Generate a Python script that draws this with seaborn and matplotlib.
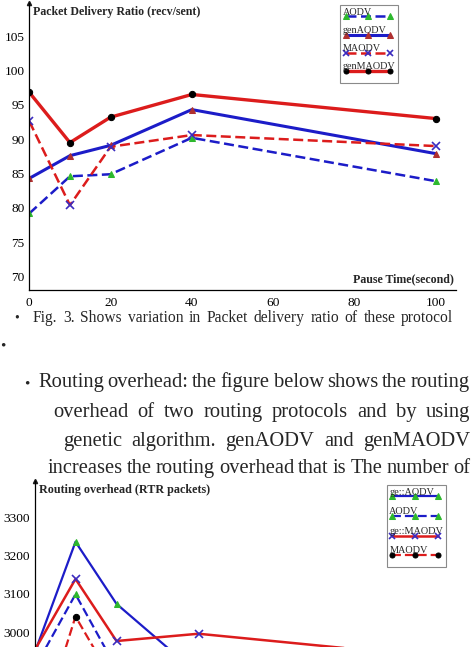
import seaborn as sns
import matplotlib.pyplot as plt
import pandas as pd
import numpy as np

# page size in pixels (dpi 100)
W, H = 474, 647

# Packet delivery ratio vs pause time
pause = [0, 10, 20, 40, 100]
pdr_aodv = [79.2, 84.6, 84.9, 90.2, 83.9]
pdr_genaodv = [84.3, 87.6, 89.1, 94.3, 87.9]
pdr_maodv = [92.6, 80.4, 88.9, 90.6, 89.0]
pdr_genmaodv = [96.8, 89.5, 93.2, 96.5, 93.0]
pdr_labels = ["AODV", "genAODV", "MAODV", "genMAODV"]

# Routing overhead (only the top of this chart is on the page)
rtr_genaodv = [2945, 3236, 3074, 2890, 2900]
rtr_aodv = [2906, 3099, 2905, 2820, 2860]
rtr_genmaodv = [2952, 3139, 2977, 2996, 2933]
rtr_maodv = [2700, 3041, 2857, 2800, 2850]
rtr_labels = ["ge::AODV", "AODV", "ge::MAODV", "MAODV"]

xticks = [0, 20, 40, 60, 80, 100]
pdr_yticks = [70, 75, 80, 85, 90, 95, 100, 105]
rtr_yticks = [3000, 3100, 3200, 3300]

sns.set_theme(style="white")
SERIF = ["Liberation Serif", "DejaVu Serif"]
plt.rcParams["font.family"] = SERIF

BLUE = "#1c1cc8"
RED = "#dc1c1c"
GREEN = "#2db82d"
DARKRED = "#b03030"
XBLUE = "#3a2cc0"
DASH = (0, (4, 1.8))

sty = {
    "aodv": dict(color=BLUE, linestyle=DASH, lw=1.8, marker="^", ms=5,
                 mfc=GREEN, mec=GREEN),
    "genaodv": dict(color=BLUE, lw=2.2, marker="^", ms=5,
                    mfc=DARKRED, mec=DARKRED),
    "maodv": dict(color=RED, linestyle=DASH, lw=1.8, marker="x", ms=6,
                  mec=XBLUE, mew=1.2),
    "genmaodv": dict(color=RED, lw=2.4, marker="o", ms=4.5,
                     mfc="black", mec="black"),
    "ge_aodv": dict(color=BLUE, lw=1.6, marker="^", ms=5,
                    mfc=GREEN, mec=GREEN),
    "rtr_aodv": dict(color=BLUE, linestyle=DASH, lw=1.6, marker="^", ms=5,
                     mfc=GREEN, mec=GREEN),
    "rtr_maodv": dict(color=RED, linestyle=DASH, lw=1.6, marker="o", ms=4.5,
                      mfc="black", mec="black"),
    "ge_maodv": dict(color=RED, lw=1.8, marker="x", ms=6,
                     mec=XBLUE, mew=1.2),
}

fig = plt.figure(figsize=(W / 100, H / 100), dpi=100)


def box(x0, y0, x1, y1):
    # pixel box (top-left origin) -> figure fraction rect
    return [x0 / W, 1 - y1 / H, (x1 - x0) / W, (y1 - y0) / H]


def style_axes(ax):
    sns.despine(ax=ax)
    for s in ("left", "bottom"):
        ax.spines[s].set_color("black")
        ax.spines[s].set_linewidth(0.9)
    ax.tick_params(direction="inout", length=4, width=0.8, colors="black",
                   labelsize=9.6, pad=1.5)
    ax.grid(False)
    ax.set_xlabel("")
    ax.set_ylabel("")
    ax.plot(1, 0, ">k", ms=3, transform=ax.get_yaxis_transform(), clip_on=False)
    ax.plot(0, 1, "^k", ms=3, transform=ax.get_xaxis_transform(), clip_on=False)


def make_legend(ax, x0, y0, size, lspace):
    h, l = ax.get_legend_handles_labels()
    leg = ax.legend(h, [s + "\n" for s in l], loc="upper left",
                    bbox_to_anchor=(x0 / W, 1 - y0 / H),
                    bbox_transform=fig.transFigure,
                    prop=dict(family=SERIF, size=size),
                    handlelength=5.0, handletextpad=-5.0, numpoints=3,
                    labelspacing=lspace, borderpad=0.25, borderaxespad=0,
                    frameon=True, fancybox=False, edgecolor="#8a8a8a",
                    framealpha=1, markerscale=0.8)
    leg.get_frame().set_linewidth(0.8)
    for t in leg.get_texts():
        t.set_linespacing(1.0)
    return leg


# ---- top chart: packet delivery ratio ----
ax1 = fig.add_axes(box(29.3, 3, 456, 290))
for vals, lab, key in zip([pdr_aodv, pdr_genaodv, pdr_maodv, pdr_genmaodv],
                          pdr_labels, ["aodv", "genaodv", "maodv", "genmaodv"]):
    sns.lineplot(x=pause, y=vals, ax=ax1, label=lab, **sty[key])
ax1.set_xlim(0, 105)
ax1.set_ylim(68.07, 109.8)
ax1.set_xticks(xticks)
ax1.set_yticks(pdr_yticks)
make_legend(ax1, 340, 5, 7.3, 0.02)
style_axes(ax1)
ax1.tick_params(axis="x", pad=3)
fig.text(33 / W, 1 - 12 / H, "Packet Delivery Ratio (recv/sent)", fontsize=8.6,
         fontweight="bold", va="center", ha="left")
fig.text(454 / W, 1 - 279 / H, "Pause Time(second)", fontsize=8.6,
         fontweight="bold", va="center", ha="right")

# ---- bottom chart: routing overhead (cut by page edge) ----
ax2 = fig.add_axes(box(34.5, 480.7, 465, 785.4))
for vals, lab, key in zip([rtr_genaodv, rtr_aodv, rtr_genmaodv, rtr_maodv],
                          rtr_labels, ["ge_aodv", "rtr_aodv", "ge_maodv", "rtr_maodv"]):
    sns.lineplot(x=pause, y=vals, ax=ax2, label=lab, **sty[key])
ax2.set_xlim(0, 105)
ax2.set_ylim(2600, 3395.6)
ax2.set_xticks(xticks)
ax2.set_yticks(rtr_yticks)
make_legend(ax2, 386.7, 485, 7.4, 0.15)
style_axes(ax2)
ax2.tick_params(axis="x", labelbottom=False)
fig.text(39 / W, 1 - 490 / H, "Routing overhead (RTR packets)", fontsize=8.7,
         fontweight="bold", va="center", ha="left")

# ---- page text between the charts ----
renderer = fig.canvas.get_renderer()


def justify(line, x0, x1, ybase, size):
    words = line.split()
    ts = [fig.text(0, 1 - ybase / H, w, fontsize=size, va="baseline")
          for w in words]
    ws = [t.get_window_extent(renderer).width for t in ts]
    gap = (x1 - x0 - sum(ws)) / max(len(ws) - 1, 1)
    x = x0
    for t, w in zip(ts, ws):
        t.set_x(x / W)
        x += w + gap


fig.text(17 / W, 1 - 321.5 / H, "\u2022", fontsize=10, va="baseline", ha="center")
justify("Fig. 3. Shows variation in Packet delivery ratio of these protocol",
        33, 453, 321.5, 11.2)
fig.text(3 / W, 1 - 349 / H, "\u2022", fontsize=11, va="baseline", ha="center")

paragraph = [
    ("Routing overhead: the figure below shows the routing", 38, 387.3),
    ("overhead of two routing protocols and by using", 53, 416.7),
    ("genetic algorithm. genAODV and genMAODV", 63, 445.7),
    ("increases the routing overhead that is The number of", 48, 473.3),
]
fig.text(27 / W, 1 - 387.3 / H, "\u2022", fontsize=11, va="baseline", ha="center")
for line, xl, yb in paragraph:
    justify(line, xl, 470, yb, 14.8)

fig.savefig("out.png", dpi=100)
